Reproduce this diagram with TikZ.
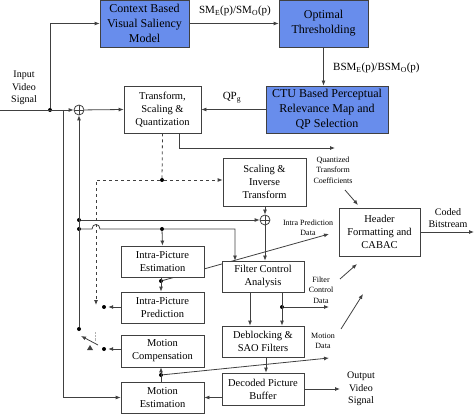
\documentclass[tikz,border=0pt]{standalone}
\usepackage{fontspec}
\setmainfont{Liberation Serif}
\usepackage{xcolor}
\usetikzlibrary{arrows.meta,backgrounds}
\definecolor{salblue}{RGB}{104,141,236}
\definecolor{wiregray}{RGB}{64,64,64}

\begin{document}
\begin{tikzpicture}[x=1pt, y=-1pt, >={Latex[length=5pt,width=4pt]},
  wire/.style={draw=wiregray, line width=0.8pt},
  blk/.style={draw=wiregray, line width=0.8pt, fill=white, align=center, inner sep=0pt, font=\fontsize{10.5}{13}\selectfont},
  blueblk/.style={blk, fill=salblue, font=\fontsize{12}{15}\selectfont},
  jdot/.style={circle, fill=black, inner sep=0pt, minimum size=4pt},
  sumnode/.style={circle, draw=wiregray, line width=0.8pt, fill=white, minimum size=10pt, inner sep=0pt,
    path picture={\draw[wiregray, line width=0.6pt] (path picture bounding box.north) -- (path picture bounding box.south)
      (path picture bounding box.west) -- (path picture bounding box.east);}},
  lbl/.style={align=center, inner sep=0pt, font=\fontsize{10}{12.5}\selectfont},
  smalllbl/.style={align=center, inner sep=0pt, font=\fontsize{8}{10.5}\selectfont},
  sublbl/.style={inner sep=0pt, font=\fontsize{11}{13}\selectfont}]

\useasboundingbox (0,0) rectangle (474,414);

% 1. Saliency branch (blue boxes)
\node[blueblk, minimum width=89pt, minimum height=47pt] (ctx) at (144.5,23.5) {Context Based\\Visual Saliency\\Model};
\node[blueblk, minimum width=89pt, minimum height=47pt] (thr) at (323.5,23.5) {Optimal\\Thresholding};
\node[blueblk, minimum width=122pt, minimum height=47pt] (ctu) at (327,109.5) {CTU Based Perceptual\\Relevance Map and\\QP Selection};

% 2. Encoder blocks
\node[blk, minimum width=77pt, minimum height=47pt] (tsq) at (162.5,109.5) {Transform,\\Scaling \&\\Quantization};
\node[blk, minimum width=83pt, minimum height=48pt] (sit) at (264.5,182) {Scaling \&\\Inverse\\Transform};
\node[blk, minimum width=81pt, minimum height=48pt] (hdr) at (379.5,232) {Header\\Formatting and\\CABAC};
\node[blk, minimum width=83pt, minimum height=31pt] (ipe) at (162.5,261.5) {Intra-Picture\\Estimation};
\node[blk, minimum width=83pt, minimum height=31pt] (ipp) at (162.5,307.5) {Intra-Picture\\Prediction};
\node[blk, minimum width=83pt, minimum height=32pt] (mcp) at (162.5,351) {Motion\\Compensation};
\node[blk, minimum width=83pt, minimum height=31pt] (mest) at (162.5,397.5) {Motion\\Estimation};
\node[blk, minimum width=82pt, minimum height=31pt] (fca) at (263,276.5) {Filter Control\\Analysis};
\node[blk, minimum width=82pt, minimum height=31pt] (dbf) at (263,341.5) {Deblocking \&\\SAO Filters};
\node[blk, minimum width=82pt, minimum height=32pt] (dpb) at (263,389) {Decoded Picture\\Buffer};

% 3. Adders, junctions and free ends
\node[sumnode] (sum1) at (79,110) {};
\node[sumnode] (sum2) at (265,220) {};
\node[jdot] (j1) at (50,110) {};
\node[jdot] (j3) at (162,180) {};
\node[jdot] (b1) at (79,220) {};
\node[jdot] (b2) at (79,229) {};
\node[jdot] (j4) at (162,229) {};
\node[jdot] (j5) at (161,281) {};
\node[jdot] (j6) at (282,307) {};
\node[jdot] (j7) at (161,375) {};
\node[jdot] (sw) at (79,329) {};
\node[jdot] (c1) at (104,307) {};
\node[jdot] (c2) at (104,349) {};
\coordinate (in) at (0,110);
\coordinate (j2) at (63,110);
\coordinate (t1) at (235,229);
\coordinate (d1) at (96,180);
\coordinate (d2) at (96,305);
\coordinate (qtc) at (335,148);
\coordinate (ipd) at (329,234);
\coordinate (fcd) at (329,307);
\coordinate (mvd) at (329,358);
\coordinate (out) at (340,389);
\coordinate (bits) at (474,232);
\coordinate (swa) at (98,345);
\coordinate (swb) at (81,336);

% 4. Main signal path
\draw[wire, ->] (in) -- (sum1);
\draw[wire, ->] (j1) |- (ctx.west);
\draw[wire, ->] (j2) |- (mest.west);
\draw[wire, ->] (sum1) -- (tsq.west);
\draw[wire, ->] (ctx.east) -- (thr.west);
\draw[wire, ->] (thr.south) -- (thr.south |- ctu.north);
\draw[wire, ->] (ctu.west) -- (tsq.east);
\draw[wire, ->] ([xshift=16.5pt]tsq.south) |- (qtc);

% 5. Dashed control lines
\draw[wire, dashed] (tsq.south) -- (j3);
\draw[wire, dashed, ->] (j3) -- (j3 -| sit.west);
\draw[wire, dashed, ->] (j3) -- (d1) -- (d2);

% 6. Prediction feedback
\draw[wire, ->] (sw) -- (sum1.south);
\draw[wire, ->] (b1) -- (sum2.west);
\draw[wire, ->] (b2) -- (92,229) .. controls (92,223) and (100,223) .. (100,229) -- (j4) -- (t1) -- (t1 |- fca.north);
\draw[wire, ->] (j4) -- (ipe.north);
\draw[wire, ->] (sum2 |- sit.south) -- (sum2.north);
\draw[wire, ->] (sum2.south) -- (sum2 |- fca.north);
\draw[wire, ->] (j5 |- ipe.south) -- (j5 |- ipp.north);
\begin{scope}[on background layer]
\draw[wire, ->] (j5) -- (ipd);
\end{scope}
\draw[wire, ->, shorten >=2pt] (ipp.west |- c1) -- (c1);
\draw[wire, ->, shorten >=2pt] (mcp.west |- c2) -- (c2);

% switch
\draw[wire, ->] (swa) -- (swb);
\fill[wiregray] (87,350) -- (93,350) -- (90,345) -- cycle;
\draw[gray!60, densely dotted] (95,332) -- (95,341);

% 7. Loop filter and picture buffer
\draw[wire, ->] ([xshift=-13pt]fca.south) -- ([xshift=-13pt]dbf.north);
\draw[wire, ->] (j6 |- fca.south) -- (j6 |- dbf.north);
\draw[wire, ->] (j6) -- (fcd);
\draw[wire, ->] ([xshift=3pt]dbf.south) -- ([xshift=3pt]dpb.north);
\draw[wire, ->] (dpb.east) -- (out);
\draw[wire, ->] (dpb.west |- mest.east) -- (mest.east);
\draw[wire, ->] (j7 |- mest.north) -- (j7 |- mcp.south);
\draw[wire, ->] (j7) -- (mvd);
\draw[wire, ->] (hdr.east) -- (bits);

% 8. Side data pointing to the entropy coder
\draw[wire, ->] (345,190) -- (358,205);
\draw[wire, ->] (340,279) -- (357,264);
\draw[wire, ->] (341,329) -- (363,294);

% 9. Labels
\node[lbl] (inlbl) at (24,88) {Input\\Video\\Signal};
\node[sublbl] (smlbl) at (235,11) {SM\textsubscript{E}(p)/SM\textsubscript{O}(p)};
\node[sublbl, anchor=west] (bsmlbl) at (333,68) {BSM\textsubscript{E}(p)/BSM\textsubscript{O}(p)};
\node[sublbl] (qplbl) at (232,98) {QP\textsubscript{g}};
\node[smalllbl] (qtclbl) at (333,170) {Quantized\\Transform\\Coefficients};
\node[smalllbl] (ipdlbl) at (308,228) {Intra Prediction\\Data};
\node[smalllbl] (fcdlbl) at (321,290) {Filter\\Control\\Data};
\node[smalllbl] (mvdlbl) at (323,341) {Motion\\Data};
\node[lbl] (outlbl) at (361,389) {Output\\Video\\Signal};
\node[lbl] (bitlbl) at (448,218) {Coded\\Bitstream};

\end{tikzpicture}
\end{document}
